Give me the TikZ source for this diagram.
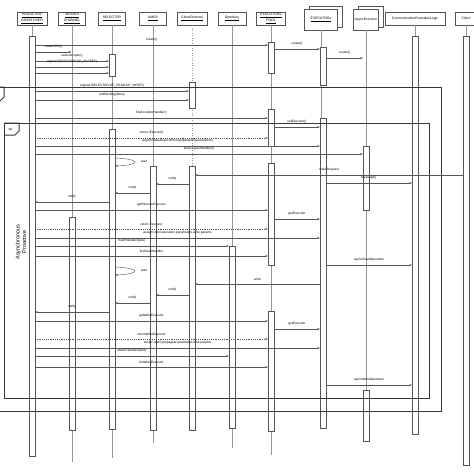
\documentclass[tikz,border=0pt]{standalone}
\usepackage{fontspec}
\setmainfont{Liberation Sans}
\usetikzlibrary{arrows.meta,positioning}
\definecolor{seqline}{RGB}{85,85,85}
\definecolor{seqframe}{RGB}{55,55,55}
\definecolor{seqlife}{RGB}{150,150,150}
\tikzset{
  headbox/.style={draw=seqline,line width=0.5pt,fill=white,minimum height=13pt,inner sep=0.5pt,align=center,font=\fontsize{3.4}{3.9}\selectfont},
  barbox/.style={draw=seqline,line width=0.5pt,fill=white},
  lifeline/.style={draw=seqlife,line width=0.5pt},
  msgline/.style={draw=seqline,line width=0.4pt,-{Latex[length=2.4pt,width=2pt]}},
  retline/.style={msgline,dash pattern=on 1.2pt off 1pt},
  msglabel/.style={font=\fontsize{3.2}{3.6}\selectfont,inner sep=0.5pt,above=3pt},
  framebox/.style={draw=seqframe,line width=1pt},
}
\newcommand{\lhead}[4]{\node[headbox,minimum width=#3pt] (#1) at (#2,18.5) {#4};}
\newcommand{\lmulti}[4]{%
  \draw[seqline,line width=0.5pt,fill=white] ({#2-#3/2+5},6) rectangle ({#2+#3/2+5},27);
  \node[headbox,minimum width=#3pt,minimum height=21pt] (#1) at (#2,19.5) {#4};}
\newcommand{\lbar}[3]{\draw[barbox] ({#1-3},#2) rectangle ({#1+3},#3);}
\newcommand{\lmsg}[5][msgline]{\draw[#1] (#2,#4) -- node[msglabel] {#5} (#3,#4);}
\newcommand{\lwait}[2]{%
  \draw[msgline] (#1,#2) .. controls ({#1+26},{#2+1}) and ({#1+26},{#2+7}) .. (#1,{#2+8});
  \node[font=\fontsize{3.2}{3.6}\selectfont,inner sep=0.5pt] at ({#1+29},{#2+3}) {wait};}

\begin{document}
\begin{tikzpicture}[x=1pt,y=-1pt]
  \useasboundingbox (0,0) rectangle (474,474);
  \clip (0,0) rectangle (474,474);
  % object heads
  \lhead{disp}{32}{30}{\underline{PROACTIVE}\\\underline{DISPATCHER}}
  \lhead{schan}{72}{27}{\underline{SERVER}\\\underline{CHANNEL}}
  \lhead{sel}{112}{27}{\underline{SELECTOR}}
  \lhead{amgs}{153}{27}{\underline{AMGS}}
  \lhead{cchan}{192}{30}{\underline{ClientChannel}}
  \lhead{okey}{232}{28}{\underline{OpenKey}}
  \lhead{pool}{271}{29}{\underline{EXECUTORS}\\\underline{POOL}}
  \lmulti{execs}{321}{33}{\underline{EXECUTORs}}
  \lmulti{async}{366}{25}{AsyncExecutor}
  \lhead{crl}{415}{60}{CommunicationRunnableLogic}
  \lhead{client}{466}{21}{Client}
  % lifelines
  \foreach \n/\b in {disp/456,schan/462,sel/458,amgs/443,okey/448,pool/455,execs/428,async/441,crl/434,client/465}
    \draw[lifeline] (\n.south) -- (\n.south |- 0,\b);
  \draw[lifeline,dotted] (cchan.south) -- (cchan.south |- 0,430);
  % activations
  \lbar{32}{36}{456}
  \lbar{72}{217}{430}
  \lbar{112}{54}{76}\lbar{112}{129}{429}
  \lbar{153}{166}{430}
  \lbar{192}{82}{108}\lbar{192}{166}{430}
  \lbar{232}{246}{428}
  \lbar{271}{42}{73}\lbar{271}{109}{146}\lbar{271}{163}{265}\lbar{271}{311}{431}
  \lbar{323}{47}{85}\lbar{323}{118}{428}
  \lbar{366}{146}{210}\lbar{366}{390}{441}
  \lbar{415}{36}{434}
  \lbar{466}{36}{465}
  % fragments
  \draw[framebox] (-14,87) rectangle (441,411);
  \draw[framebox] (-14,87) -- (4,87) -- (4,97) -- (0,101) -- (-14,101);
  \draw[framebox] (4,123) rectangle (429,398);
  \draw[framebox] (4,123) -- (19,123) -- (19,131) -- (15,135) -- (4,135);
  \node[font=\fontsize{3.4}{4}\selectfont,inner sep=0pt] (altlbl) at (10.5,129) {alt};
  \node[rotate=90,align=center,font=\fontsize{5.5}{6.5}\selectfont] (pattern) at (21,242) {Asynchronous\\Proactive};
  % set up
  \lmsg{35}{268}{45}{create()}
  \lmsg{274}{320}{49}{create()}
  \lmsg{326}{363}{58}{create()}
  \lmsg{35}{71.5}{52}{createSOK()}
  \lmsg{35}{109}{61}{selector.open()}
  \lmsg{35}{109}{67}{register(SELECTOR,OP\_ACCEPT)}
  \draw[msgline] (35,73) -- (109,73);
  \lmsg{35}{189}{91}{register(SELECTOR,OP\_READ,OP\_WRITE)}
  \lmsg{35}{189}{100}{setBlocking(false)}
  \lmsg{35}{268}{118}{fireAcceptorHandler()}
  \lmsg{274}{320}{127}{setExecutor()}
  % read
  \lmsg[retline]{35}{268}{138}{return (Executor)}
  \lmsg{35}{320}{146}{asyncInitiateAsynchronousOperation(parameters)}
  \lmsg{35}{363}{154}{fireAcceptorHandler()}
  \lwait{115}{158}
  \lmsg{463}{195}{175}{makeRequest}
  \lmsg{326}{412}{183}{Message()}
  \lmsg{189}{156}{184}{notify}
  \lmsg{150}{115}{193}{notify}
  \lmsg{109}{35}{202}{notify}
  \lmsg{35}{268}{210}{getReceiveExecutor}
  \lmsg{274}{320}{219}{getExecutor}
  \lmsg[retline]{35}{268}{229}{return Executor}
  \lmsg{35}{320}{238}{assign client,operation parameters,write params}
  \lmsg{35}{229}{246}{flushHandler(false)}
  \lmsg{35}{268}{256}{fireReadHandler}
  \lmsg{326}{412}{265}{asyncReadOperation}
  % write
  \lwait{115}{267}
  \lmsg{320}{195}{284}{write}
  \lmsg{189}{156}{295}{notify}
  \lmsg{150}{115}{303}{notify}
  \lmsg{109}{35}{312}{notify}
  \lmsg{35}{268}{321}{getWriteExecutor}
  \lmsg{274}{320}{329}{getExecutor}
  \lmsg[retline]{35}{268}{339}{returnWriteExecutor}
  \lmsg{35}{320}{348}{assign client,propagate parameter,write params}
  \lmsg{35}{229}{356}{attachHandler(false)}
  \lmsg{35}{268}{367}{fireWriteExecutor}
  \lmsg{326}{412}{385}{asyncWriteOperation}
\end{tikzpicture}
\end{document}
